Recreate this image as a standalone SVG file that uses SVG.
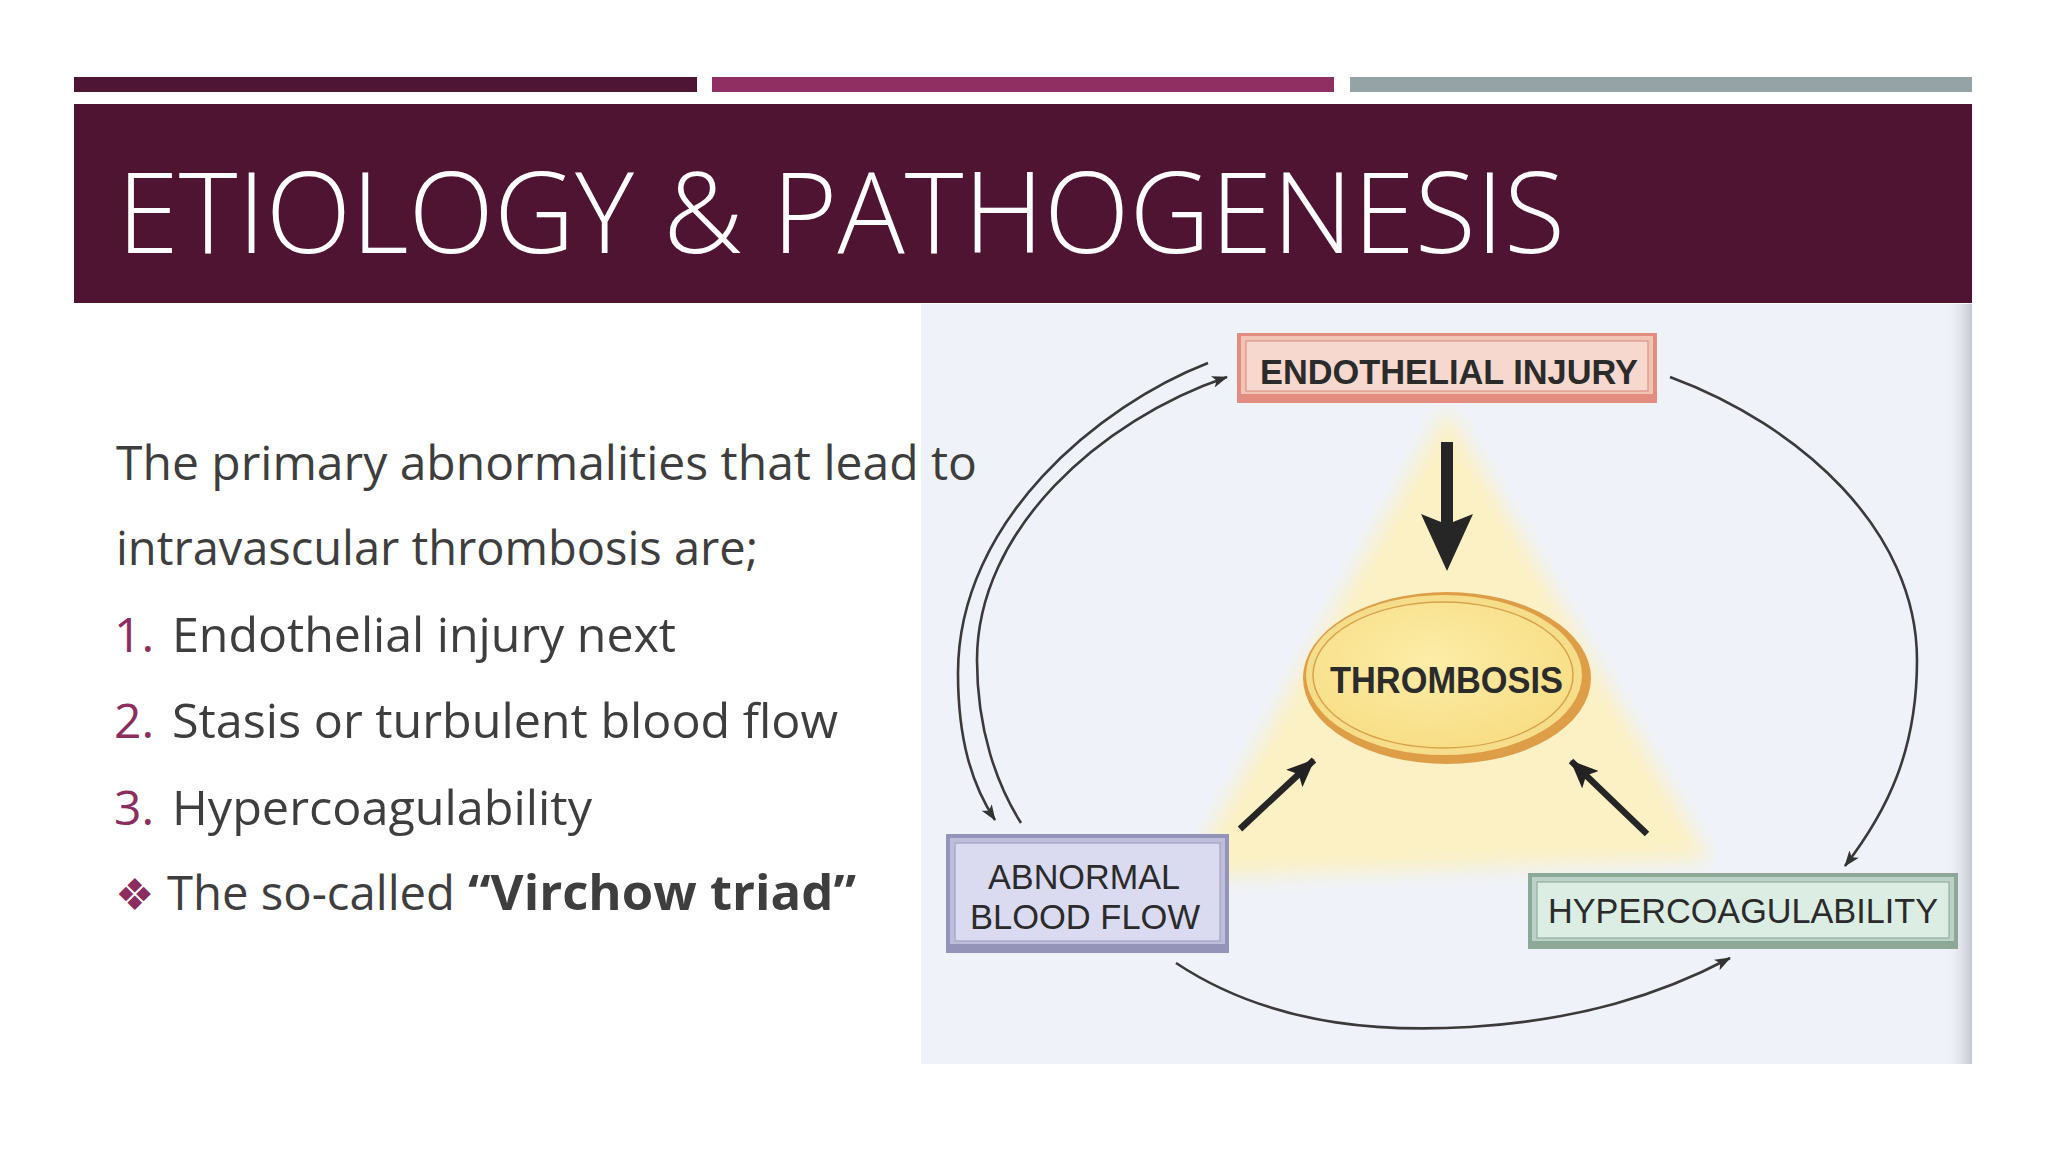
<svg xmlns="http://www.w3.org/2000/svg" width="2048" height="1152" viewBox="0 0 2048 1152">
<defs>
<style>
.body{font-family:"Open Sans","Noto Sans","Liberation Sans",sans-serif;font-size:48px;fill:#3E3E3E}
.num{fill:#8B2D5E}
.lbl{font-family:"Liberation Sans",Arial,sans-serif;fill:#2B2B2B}
.curve{fill:none;stroke:#3A3A3A;stroke-width:2.6}
.thick{fill:none;stroke:#262626;stroke-width:6.5}
</style>
<marker id="ah" markerUnits="userSpaceOnUse" markerWidth="16" markerHeight="12" refX="15" refY="6" orient="auto">
<path d="M0,0 L16,6 L0,12 L4,6 z" fill="#333"/>
</marker>
<marker id="ahb" markerUnits="userSpaceOnUse" markerWidth="28" markerHeight="24" refX="27" refY="12" orient="auto">
<path d="M0,0 L28,12 L0,24 L6,12 z" fill="#222"/>
</marker>
<filter id="blur" x="-20%" y="-20%" width="140%" height="140%"><feGaussianBlur stdDeviation="10"/></filter>
<linearGradient id="edge" x1="0" y1="0" x2="1" y2="0">
<stop offset="0" stop-color="#EEF1F8" stop-opacity="0"/>
<stop offset="1" stop-color="#C4C8CE"/>
</linearGradient>
<radialGradient id="ov" cx="0.45" cy="0.4" r="0.6">
<stop offset="0" stop-color="#FCEDA8"/>
<stop offset="1" stop-color="#F8DE86"/>
</radialGradient>
</defs>
<rect x="0" y="0" width="2048" height="1152" fill="#FFFFFF"/>

<g id="header">
<rect x="74" y="77" width="623" height="15" fill="#4F1534"/>
<rect x="712" y="77" width="622" height="15" fill="#902F62"/>
<rect x="1350" y="77" width="622" height="15" fill="#95A2A6"/>
<rect x="74" y="104" width="1898" height="199" fill="#501433"/>
<text x="117" y="253" font-family="'Open Sans','Noto Sans','Liberation Sans',sans-serif" font-weight="300" font-size="113" fill="#FFFFFF" textLength="1448" lengthAdjust="spacingAndGlyphs">ETIOLOGY &amp; PATHOGENESIS</text>
</g>

<g id="figure-bg">
<rect x="921" y="304" width="1051" height="760" fill="#EFF2F9"/>
<rect x="1945" y="304" width="27" height="760" fill="url(#edge)"/>
<polygon points="1447,408 1185,878 1710,860" fill="#FBF1C4" filter="url(#blur)"/>
</g>

<g id="bodytext">
<text class="body" x="116" y="480" textLength="861" lengthAdjust="spacingAndGlyphs">The primary abnormalities that lead to</text>
<text class="body" x="116" y="565" textLength="642" lengthAdjust="spacingAndGlyphs">intravascular thrombosis are;</text>
<text class="body num" x="114" y="652">1.</text>
<text class="body" x="172" y="652" textLength="504" lengthAdjust="spacingAndGlyphs">Endothelial injury next</text>
<text class="body num" x="114" y="738">2.</text>
<text class="body" x="172" y="738" textLength="666" lengthAdjust="spacingAndGlyphs">Stasis or turbulent blood flow</text>
<text class="body num" x="114" y="825">3.</text>
<text class="body" x="172" y="825" textLength="420" lengthAdjust="spacingAndGlyphs">Hypercoagulability</text>
<text x="115" y="910" font-family="'DejaVu Sans',sans-serif" font-size="44" fill="#8B2D5E">❖</text>
<text class="body" x="167" y="910" textLength="288" lengthAdjust="spacingAndGlyphs">The so-called</text>
<text class="body" x="468" y="910" font-weight="bold" textLength="388" lengthAdjust="spacingAndGlyphs">“Virchow triad”</text>
</g>

<g id="connectors">
<path class="curve" d="M1208,363 C1100,405 958,520 958,673 C958,740 972,785 995,820" marker-end="url(#ah)"/>
<path class="curve" d="M1021,823 C997,785 977,730 977,660 C977,530 1100,420 1227,377" marker-end="url(#ah)"/>
<path class="curve" d="M1670,377 C1800,425 1917,530 1917,660 C1917,750 1888,810 1845,866" marker-end="url(#ah)"/>
<path class="curve" d="M1176,963 C1280,1032 1400,1031 1470,1027 C1580,1020 1660,995 1730,958" marker-end="url(#ah)"/>
<polygon points="1441,442 1453,442 1453,522 1473,514 1447,571 1421,514 1441,522" fill="#262626"/>
<line class="thick" x1="1240" y1="829" x2="1314" y2="760" marker-end="url(#ahb)"/>
<line class="thick" x1="1647" y1="834" x2="1571" y2="761" marker-end="url(#ahb)"/>
</g>

<g id="node-endothelial">
<rect x="1237" y="333" width="420" height="70" fill="#E38D80"/>
<rect x="1241" y="336" width="412" height="58" fill="#F2C4B8"/>
<rect x="1246" y="341" width="402" height="50" fill="#F6D8CF" stroke="#D99385" stroke-width="1.2"/>
<text class="lbl" x="1260" y="384" font-size="35" font-weight="bold" textLength="378" lengthAdjust="spacingAndGlyphs">ENDOTHELIAL INJURY</text>
</g>

<g id="node-thrombosis">
<ellipse cx="1447" cy="678" rx="144" ry="86" fill="#DE9E48"/>
<ellipse cx="1444" cy="675" rx="138" ry="80" fill="#F5DD8A"/>
<ellipse cx="1443" cy="675" rx="130" ry="73" fill="url(#ov)" stroke="#D7A24E" stroke-width="1.5"/>
<text class="lbl" x="1330" y="693" font-size="36" font-weight="bold" textLength="233" lengthAdjust="spacingAndGlyphs">THROMBOSIS</text>
</g>

<g id="node-abnormal">
<rect x="946" y="834" width="283" height="119" fill="#9494B8"/>
<rect x="950" y="838" width="275" height="106" fill="#BEBEDA"/>
<rect x="955" y="843" width="265" height="98" fill="#DADAF0" stroke="#A2A2C4" stroke-width="1.2"/>
<text class="lbl" x="1084" y="889" font-size="35" text-anchor="middle" textLength="192" lengthAdjust="spacingAndGlyphs">ABNORMAL</text>
<text class="lbl" x="1085" y="929" font-size="35" text-anchor="middle" textLength="230" lengthAdjust="spacingAndGlyphs">BLOOD FLOW</text>
</g>

<g id="node-hypercoag">
<rect x="1528" y="873" width="430" height="76" fill="#8EA898"/>
<rect x="1532" y="877" width="422" height="64" fill="#BCD2C6"/>
<rect x="1537" y="882" width="412" height="56" fill="#DCEDE4" stroke="#96AEA0" stroke-width="1.2"/>
<text class="lbl" x="1548" y="923" font-size="35" textLength="390" lengthAdjust="spacingAndGlyphs">HYPERCOAGULABILITY</text>
</g>
</svg>
